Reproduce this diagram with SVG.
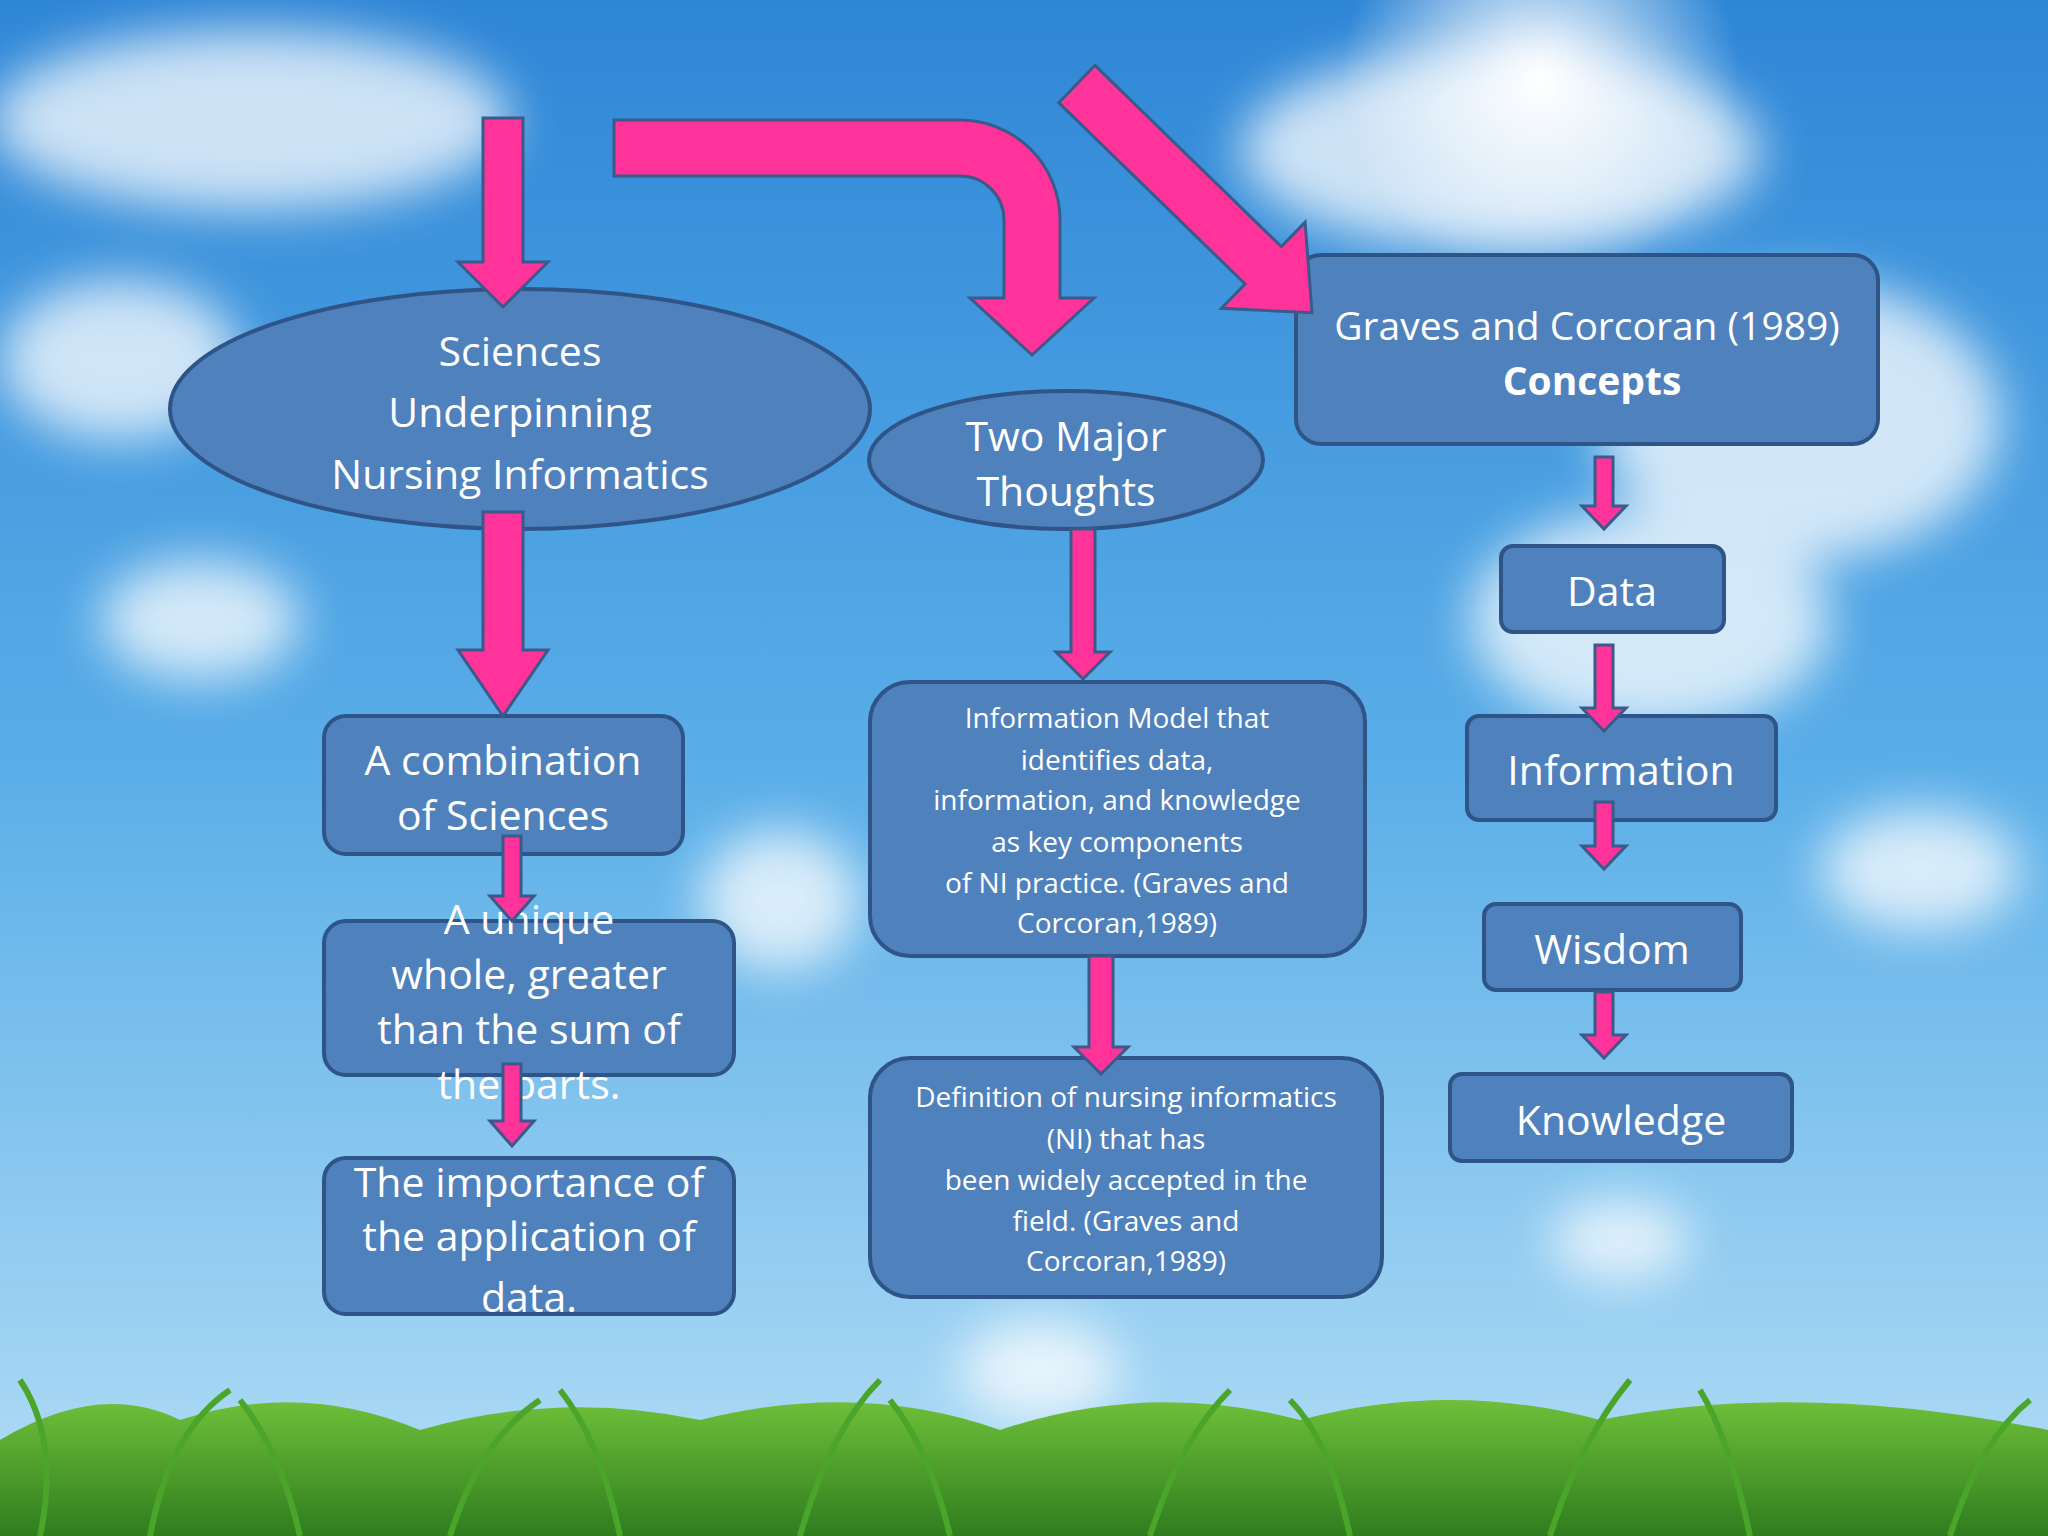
<svg xmlns="http://www.w3.org/2000/svg" width="2048" height="1536" viewBox="0 0 2048 1536">
<defs>
<linearGradient id="sky" x1="0" y1="0" x2="0" y2="1">
<stop offset="0" stop-color="#2f86d6"/><stop offset="0.5" stop-color="#5aaee8"/><stop offset="1" stop-color="#b4def6"/>
</linearGradient>
<radialGradient id="sun" cx="0.5" cy="0.5" r="0.5"><stop offset="0" stop-color="#fff" stop-opacity="1"/><stop offset="1" stop-color="#fff" stop-opacity="0"/></radialGradient>
<linearGradient id="grass" x1="0" y1="0" x2="0" y2="1"><stop offset="0" stop-color="#6fbf3a"/><stop offset="1" stop-color="#2f7d1e"/></linearGradient>
<filter id="blur" x="-50%" y="-50%" width="200%" height="200%"><feGaussianBlur stdDeviation="25"/></filter>
</defs>
<style>
.n{fill:#4f81bd;stroke:#2f5487;stroke-width:4}
.a{fill:#ff3399;stroke:#3b5a8a;stroke-width:3}
.t{fill:#fff;font-family:"Open Sans","Liberation Sans",sans-serif;text-anchor:middle;dominant-baseline:central}
.b{font-size:41px}.s{font-size:28px}
</style>
<g id="background">
<rect width="2048" height="1536" fill="url(#sky)"/>
<circle cx="1540" cy="80" r="200" fill="url(#sun)"/>
<g fill="#fff" opacity="0.75" filter="url(#blur)">
<ellipse cx="250" cy="120" rx="260" ry="90"/><ellipse cx="120" cy="360" rx="120" ry="80"/>
<ellipse cx="1500" cy="150" rx="260" ry="100"/><ellipse cx="1800" cy="420" rx="200" ry="140"/>
<ellipse cx="1650" cy="620" rx="180" ry="110"/><ellipse cx="1920" cy="870" rx="100" ry="60"/>
<ellipse cx="200" cy="620" rx="100" ry="60"/><ellipse cx="780" cy="900" rx="80" ry="70"/>
<ellipse cx="1620" cy="1240" rx="70" ry="40"/><ellipse cx="1040" cy="1370" rx="80" ry="50"/>
</g>
<path d="M0,1536 L0,1440 Q100,1380 180,1420 Q300,1380 420,1430 Q560,1390 700,1420 Q860,1380 1000,1430 Q1150,1380 1300,1420 Q1450,1380 1600,1420 Q1800,1380 2048,1430 L2048,1536 Z" fill="url(#grass)"/>
<g stroke="#4aa52a" stroke-width="6" fill="none">
<path d="M40,1536 Q60,1440 20,1380"/><path d="M150,1536 Q170,1430 230,1390"/><path d="M300,1536 Q280,1450 240,1400"/>
<path d="M450,1536 Q480,1440 540,1400"/><path d="M620,1536 Q600,1440 560,1390"/><path d="M800,1536 Q830,1430 880,1380"/>
<path d="M950,1536 Q930,1450 890,1400"/><path d="M1150,1536 Q1180,1440 1230,1390"/><path d="M1350,1536 Q1330,1440 1290,1400"/>
<path d="M1550,1536 Q1580,1440 1630,1380"/><path d="M1750,1536 Q1730,1440 1700,1390"/><path d="M1950,1536 Q1980,1440 2030,1400"/>
</g>
</g>
<g id="sciences"><ellipse class="n" cx="520" cy="409" rx="350" ry="120"/>
<text class="t b" x="520" y="350">Sciences</text><text class="t b" x="520" y="411">Underpinning</text><text class="t b" x="520" y="473">Nursing Informatics</text></g>
<g id="twomajor"><ellipse class="n" cx="1066" cy="460" rx="197" ry="69"/>
<text class="t b" x="1066" y="435">Two Major</text><text class="t b" x="1066" y="490">Thoughts</text></g>
<g id="graves"><rect class="n" x="1296" y="255" width="582" height="189" rx="25"/>
<text class="t" font-size="39" x="1587" y="324">Graves and Corcoran (1989)</text><text class="t" font-size="39" x="1592" y="379" font-weight="bold">Concepts</text></g>
<g id="data"><rect class="n" x="1501" y="546" width="223" height="86" rx="12"/><text class="t b" x="1612" y="590">Data</text></g>
<g id="information"><rect class="n" x="1467" y="716" width="309" height="104" rx="12"/><text class="t b" x="1621" y="769">Information</text></g>
<g id="wisdom"><rect class="n" x="1484" y="904" width="257" height="86" rx="12"/><text class="t b" x="1612" y="948">Wisdom</text></g>
<g id="knowledge"><rect class="n" x="1450" y="1074" width="342" height="87" rx="12"/><text class="t b" x="1621" y="1119">Knowledge</text></g>
<g id="combination"><rect class="n" x="324" y="716" width="359" height="138" rx="22"/>
<text class="t b" x="503" y="759">A combination</text><text class="t b" x="503" y="814">of Sciences</text></g>
<g id="unique"><rect class="n" x="324" y="921" width="410" height="154" rx="22"/>
<text class="t b" x="529" y="918">A unique</text><text class="t b" x="529" y="973">whole, greater</text><text class="t b" x="529" y="1028">than the sum of</text><text class="t b" x="529" y="1083">the parts.</text></g>
<g id="importance"><rect class="n" x="324" y="1158" width="410" height="156" rx="22"/>
<text class="t b" x="529" y="1181">The importance of</text><text class="t b" x="529" y="1235">the application of</text><text class="t b" x="529" y="1296">data.</text></g>
<g id="infomodel"><rect class="n" x="870" y="682" width="495" height="274" rx="40"/>
<text class="t s" x="1117" y="717">Information Model that</text><text class="t s" x="1117" y="759">identifies data,</text><text class="t s" x="1117" y="799">information, and knowledge</text><text class="t s" x="1117" y="841">as key components</text><text class="t s" x="1117" y="882">of NI practice. (Graves and</text><text class="t s" x="1117" y="922">Corcoran,1989)</text></g>
<g id="definition"><rect class="n" x="870" y="1058" width="512" height="239" rx="40"/>
<text class="t s" x="1126" y="1096">Definition of nursing informatics</text><text class="t s" x="1126" y="1138">(NI) that has</text><text class="t s" x="1126" y="1179">been widely accepted in the</text><text class="t s" x="1126" y="1220">field. (Graves and</text><text class="t s" x="1126" y="1260">Corcoran,1989)</text></g>
<g id="connectors">
<polygon class="a" points="483,118 523,118 523,262 548,262 503,307 458,262 483,262"/>
<path class="a" d="M614,120 H960 A100,100 0 0 1 1060,220 V298 H1094 L1032,355 L970,298 H1004 V220 A44,44 0 0 0 960,176 H614 Z"/>
<polygon class="a" transform="translate(1084,91) rotate(44.2)" points="-10,-26 250,-26 250,-60 318,0 250,60 250,26 -10,26"/>
<polygon class="a" points="483,512 523,512 523,650 548,650 503,716 458,650 483,650"/>
<polygon class="a" points="503,836 521,836 521,896 534,896 512,921 490,896 503,896"/>
<polygon class="a" points="503,1064 521,1064 521,1121 534,1121 512,1146 490,1121 503,1121"/>
<polygon class="a" points="1071,529 1095,529 1095,652 1110,652 1083,679 1056,652 1071,652"/>
<polygon class="a" points="1089,956 1113,956 1113,1047 1128,1047 1101,1074 1074,1047 1089,1047"/>
<polygon class="a" points="1595,457 1613,457 1613,506 1626,506 1604,529 1582,506 1595,506"/>
<polygon class="a" points="1595,645 1613,645 1613,708 1626,708 1604,731 1582,708 1595,708"/>
<polygon class="a" points="1595,802 1613,802 1613,846 1626,846 1604,869 1582,846 1595,846"/>
<polygon class="a" points="1595,992 1613,992 1613,1035 1626,1035 1604,1058 1582,1035 1595,1035"/>
</g>
</svg>
